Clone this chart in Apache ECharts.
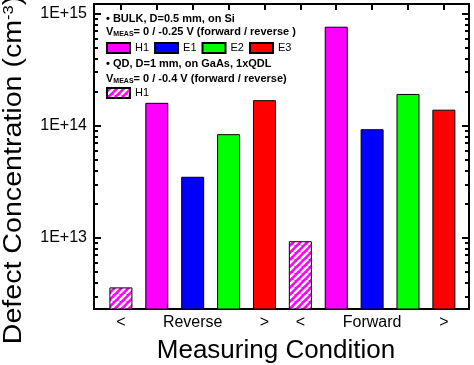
<!DOCTYPE html>
<html><head><meta charset="utf-8">
<script src="https://cdn.jsdelivr.net/npm/echarts@6/dist/echarts.min.js"></script>
<style>html,body{margin:0;padding:0;background:#fff}#c{width:474px;height:365px}</style>
</head><body><div id="c"></div>
<script>
// ---- data ----
const categoryPositions = [1, 2, 3, 4, 5, 6, 7, 8, 9, 10];
const categoryLabels = ['<', '', 'Reverse', '', '>', '<', '', 'Forward', '', '>'];
const qdH1Pos = [1, 6];
const bulkH1Pos = [2, 7];
const bulkE1Pos = [3, 8];
const bulkE2Pos = [4, 9];
const bulkE3Pos = [5, 10];
const qdH1 = [3.6e12, 9.3e12];
const bulkH1 = [1.6e14, 7.65e14];
const bulkE1 = [3.5e13, 9.3e13];
const bulkE2 = [8.4e13, 1.92e14];
const bulkE3 = [1.69e14, 1.39e14];
const yMajorTicks = [1e13, 1e14, 1e15];
const yTickLabels = ['1E+13', '1E+14', '1E+15'];
const yMinorTicks = [3e12, 4e12, 5e12, 6e12, 7e12, 8e12, 9e12,
  2e13, 3e13, 4e13, 5e13, 6e13, 7e13, 8e13, 9e13,
  2e14, 3e14, 4e14, 5e14, 6e14, 7e14, 8e14, 9e14];

const FONT = '"Liberation Sans", Arial, Helvetica, sans-serif';
const Y_MIN = 2.31e12, Y_MAX = 1.22e15;

function hatchCanvas() {
  const s = 7, c = document.createElement('canvas');
  c.width = s; c.height = s;
  const g = c.getContext('2d');
  g.fillStyle = '#ff00ff'; g.fillRect(0, 0, s, s);
  g.strokeStyle = '#ffffff'; g.lineWidth = 2.4;
  for (const o of [-s, 0, s]) { g.beginPath(); g.moveTo(o, s); g.lineTo(o + s, 0); g.stroke(); }
  return c;
}
const hatch = { image: hatchCanvas(), repeat: 'repeat' };

function pts(pos, vals) { return pos.map((p, i) => [p, vals[i]]); }
function bar(name, pos, vals, color) {
  return {
    type: 'bar', name, data: pts(pos, vals), xAxisIndex: 0, yAxisIndex: 0,
    barWidth: 23, barGap: '-100%',
    itemStyle: { color, borderColor: '#000', borderWidth: 1 },
    emphasis: { disabled: true }
  };
}

const axisLine = { show: true, lineStyle: { color: '#000', width: 2 } };
function xAx(pos, len, labels) {
  return {
    type: 'value', min: 0.25, max: 10.7, position: pos,
    axisLine,
    axisTick: { show: true, inside: true, length: len, customValues: categoryPositions, lineStyle: { color: '#000', width: 2 } },
    axisLabel: labels ? {
      show: true, customValues: categoryPositions,
      formatter: v => categoryLabels[categoryPositions.indexOf(Math.round(v))] || '',
      fontSize: 16, color: '#000', fontFamily: FONT, margin: 6
    } : { show: false },
    splitLine: { show: false }
  };
}
function yAx(pos, ticks, len, labels, line) {
  return {
    type: 'log', logBase: 10, min: Y_MIN, max: Y_MAX, position: pos,
    axisLine: line ? axisLine : { show: false },
    axisTick: { show: true, inside: true, length: len, customValues: ticks, lineStyle: { color: '#000', width: 2 } },
    axisLabel: labels ? {
      show: true, customValues: yMajorTicks,
      formatter: v => { const i = yMajorTicks.findIndex(t => Math.abs(t - v) / t < 1e-6); return i >= 0 ? yTickLabels[i] : ''; },
      fontSize: 16, color: '#000', fontFamily: FONT, margin: 7
    } : { show: false },
    splitLine: { show: false }, minorTick: { show: false }
  };
}

const chart = echarts.init(document.getElementById('c'), null, { renderer: 'canvas' });
const txt = (t, x, y, extra) => ({
  type: 'text', x, y, silent: true,
  style: Object.assign({ text: t, fontSize: 11, fontWeight: 'bold', fontFamily: FONT, fill: '#000', align: 'left', verticalAlign: 'middle' }, extra || {})
});
const vmeasRich = {
  v: { fontSize: 11, fontWeight: 'bold', fontFamily: FONT, fill: '#000' },
  s: { fontSize: 7, fontWeight: 'bold', fontFamily: FONT, fill: '#000', verticalAlign: 'bottom' }
};

chart.setOption({
  animation: false,
  backgroundColor: '#fff',
  grid: { left: 94, right: 5, top: 4, bottom: 56, containLabel: false },
  xAxis: [xAx('bottom', 5, true), xAx('top', 6, false)],
  yAxis: [
    yAx('left', yMajorTicks, 7, true, true),
    yAx('left', yMinorTicks, 4, false, false),
    yAx('right', yMajorTicks, 7, false, true),
    yAx('right', yMinorTicks, 4, false, false)
  ],
  legend: [
    {
      data: ['H1', 'E1', 'E2', 'E3'], left: 106, top: 42, padding: 0,
      itemWidth: 23, itemHeight: 10, itemGap: 5, icon: 'rect', selectedMode: false,
      textStyle: { fontSize: 11, color: '#000', fontFamily: FONT }
    },
    {
      data: ['H1 (QD)'], left: 106, top: 87, padding: 0,
      itemWidth: 23, itemHeight: 10, icon: 'rect', selectedMode: false,
      formatter: () => 'H1',
      textStyle: { fontSize: 11, color: '#000', fontFamily: FONT }
    }
  ],
  series: [
    bar('H1 (QD)', qdH1Pos, qdH1, hatch),
    bar('H1', bulkH1Pos, bulkH1, '#ff00ff'),
    bar('E1', bulkE1Pos, bulkE1, '#0000ff'),
    bar('E2', bulkE2Pos, bulkE2, '#00ff00'),
    bar('E3', bulkE3Pos, bulkE3, '#ff0000')
  ],
  graphic: [
    txt('\u2022 BULK, D=0.5 mm, on Si', 106, 19),
    txt('{v|V}{s|MEAS}{v|= 0 / -0.25 V (forward / reverse )}', 106, 32, { rich: vmeasRich }),
    txt('\u2022 QD, D=1 mm, on GaAs, 1xQDL', 106, 64),
    txt('{v|V}{s|MEAS}{v|= 0 / -0.4 V (forward / reverse)}', 106, 79, { rich: vmeasRich }),
    {
      type: 'text', x: 14, y: 170, rotation: Math.PI / 2, scaleX: 1.1, silent: true,
      style: {
        text: '{a|Defect Concentration (cm}{s|-3}{a|)}', align: 'center', verticalAlign: 'middle',
        rich: {
          a: { fontSize: 26, fontFamily: FONT, fill: '#000' },
          s: { fontSize: 15, fontFamily: FONT, fill: '#000', verticalAlign: 'top' }
        }
      }
    },
    {
      type: 'text', x: 276, y: 351, silent: true,
      style: { text: 'Measuring Condition', fontSize: 26, fontFamily: FONT, fill: '#000', align: 'center', verticalAlign: 'middle' }
    }
  ]
});
</script>
</body></html>
